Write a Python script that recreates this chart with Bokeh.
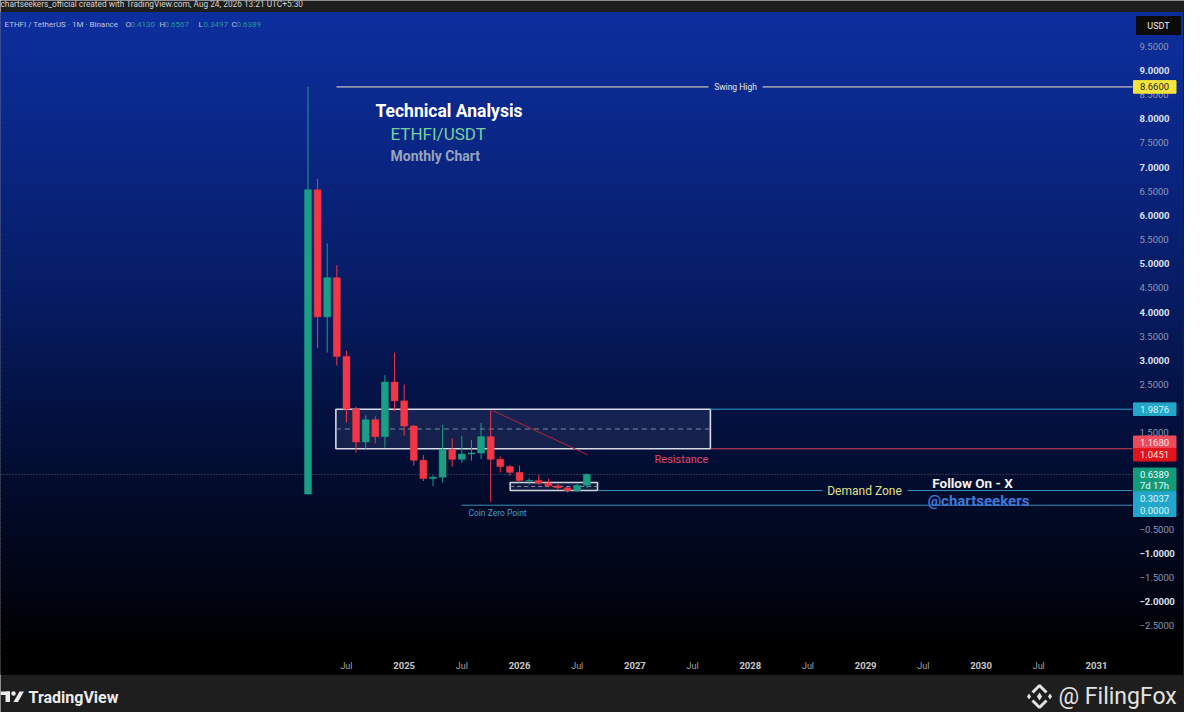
import numpy as np
from bokeh.plotting import figure
from bokeh.models import ColumnDataSource, Range1d
from bokeh.core.properties import value
from bokeh.embed import file_html
from bokeh.resources import INLINE

# ---------------- data ----------------
months = ["2024-03", "2024-04", "2024-05", "2024-06", "2024-07", "2024-08", "2024-09",
          "2024-10", "2024-11", "2024-12", "2025-01", "2025-02", "2025-03", "2025-04",
          "2025-05", "2025-06", "2025-07", "2025-08", "2025-09", "2025-10", "2025-11",
          "2025-12", "2026-01", "2026-02", "2026-03", "2026-04", "2026-05", "2026-06",
          "2026-07", "2026-08"]
opens = [0.23, 6.53, 3.90, 4.71, 3.08, 1.99, 1.31, 1.77, 1.42, 2.55, 2.16, 1.64, 0.93, 0.55,
         0.58, 1.15, 0.95, 1.06, 1.08, 1.42, 0.95, 0.80, 0.68, 0.50, 0.51, 0.46, 0.40, 0.36,
         0.30, 0.4130]
highs = [8.66, 6.76, 5.42, 4.97, 3.20, 2.04, 1.86, 1.84, 2.69, 3.16, 2.50, 1.66, 1.04, 0.62,
         1.66, 1.38, 1.44, 1.35, 1.70, 1.96, 1.01, 0.83, 0.82, 0.56, 0.63, 0.55, 0.44, 0.38,
         0.45, 0.6567]
lows = [0.22, 3.25, 3.16, 2.89, 1.71, 1.09, 1.17, 1.28, 1.19, 1.95, 1.44, 0.82, 0.50, 0.40,
        0.47, 0.80, 0.88, 0.92, 0.95, 0.07, 0.68, 0.61, 0.47, 0.42, 0.42, 0.37, 0.33, 0.26,
        0.28, 0.3497]
closes = [6.53, 3.90, 4.71, 3.08, 1.99, 1.31, 1.77, 1.42, 2.55, 2.16, 1.64, 0.93, 0.55, 0.58,
          1.15, 0.95, 1.06, 1.08, 1.42, 0.95, 0.80, 0.68, 0.51, 0.51, 0.46, 0.40, 0.36, 0.30,
          0.41, 0.6389]

ytick_values = [9.5, 9.0, 8.5, 8.0, 7.5, 7.0, 6.5, 6.0, 5.5, 5.0, 4.5, 4.0, 3.5, 3.0, 2.5,
                2.0, 1.5, 1.0, 0.5, 0.0, -0.5, -1.0, -1.5, -2.0, -2.5]
xtick_dates = ["2024-07", "2025-01", "2025-07", "2026-01", "2026-07", "2027-01", "2027-07",
               "2028-01", "2028-07", "2029-01", "2029-07", "2030-01", "2030-07", "2031-01"]
xtick_labels = ["Jul", "2025", "Jul", "2026", "Jul", "2027", "Jul", "2028", "Jul", "2029",
                "Jul", "2030", "Jul", "2031"]

swing_high = 8.66
zone_top = 1.9876
resistance = 1.1680
trend_start = 1.96
trend_end = 1.0451
demand_top = 0.47
demand = 0.3037
zero_point = 0.0
countdown = "7d 17h"

# ---------------- layout helpers (page pixels -> data) ----------------
X0, DX = 315.5, 9.615      # page x of first candle, px per month
Y0, DY = 512.7, 48.3       # page y of price 0, px per unit


def mi(s):
    y, m = s.split("-")
    return (int(y) - 2024) * 12 + int(m) - 3


def px2m(px):
    return (px - X0) / DX


def py2v(py):
    return (Y0 - py) / DY


def v2py(v):
    return Y0 - v * DY


XL, XR = px2m(8), px2m(1192)
YT, YB = py2v(8), py2v(720)
FONT = value("Roboto")

p = figure(width=1184, height=712, x_range=Range1d(XL, XR), y_range=Range1d(YB, YT),
           output_backend="svg", toolbar_location=None, x_axis_location=None,
           y_axis_location=None, min_border=0, background_fill_color="#1e1e1e",
           border_fill_color="#1e1e1e", outline_line_color=None)
p.grid.grid_line_color = None
p.grid.visible = False

# ---------------- background gradient ----------------
stops_py = [20, 150, 300, 420, 520, 610, 655]
stops_rgb = np.array([(13, 47, 158), (10, 39, 134), (7, 28, 100), (4, 18, 66),
                      (2, 10, 38), (1, 4, 16), (0, 0, 0)], dtype=float)
edges = np.arange(20, 664, 4)
tops, bots, cols = [], [], []
for e in edges[:-1]:
    mid = e + 2
    r = np.interp(mid, stops_py, stops_rgb[:, 0])
    g = np.interp(mid, stops_py, stops_rgb[:, 1])
    b = np.interp(mid, stops_py, stops_rgb[:, 2])
    cols.append("#%02x%02x%02x" % (int(r), int(g), int(b)))
    tops.append(py2v(e))
    bots.append(py2v(e + 4))
p.quad(left=px2m(8), right=px2m(1190), top=tops, bottom=bots, fill_color=cols,
       line_color=cols, line_width=1)
p.quad(left=px2m(8), right=px2m(1190), top=py2v(660), bottom=py2v(682),
       fill_color="#000000", line_color="#000000")

x_axis_edge = px2m(1140)

# ---------------- levels and zones ----------------
# current price dotted line
p.segment(x0=px2m(8), y0=closes[-1], x1=x_axis_edge, y1=closes[-1], line_color="#4f6470",
          line_width=1, line_dash="1 2")

# swing high line with gap for label
p.segment(x0=[px2m(344), px2m(770)], y0=[swing_high] * 2, x1=[px2m(716), x_axis_edge],
          y1=[swing_high] * 2, line_color="#efe6c0", line_width=1)
p.text(x=[px2m(743)], y=[swing_high], text=["Swing High"], text_font=FONT,
       text_font_size="8.5px", text_color="#e6e6e6", text_align="center", text_baseline="middle")

# big zone box
bx0, bx1 = 2.9, 41.85
p.quad(left=bx0, right=bx1, top=zone_top, bottom=resistance, fill_color="#8a98c0",
       fill_alpha=0.14, line_color="#d6dbe6", line_width=1.6)
p.segment(x0=bx0, y0=(zone_top + resistance) / 2, x1=bx1, y1=(zone_top + resistance) / 2,
          line_color="#7d8aa8", line_width=1, line_dash="5 4")
p.segment(x0=bx1, y0=zone_top, x1=x_axis_edge, y1=zone_top, line_color="#2a9fd0", line_width=1)
p.segment(x0=bx1, y0=resistance, x1=x_axis_edge, y1=resistance, line_color="#d8435c",
          line_width=1)
p.text(x=[px2m(689)], y=[py2v(467)], text=["Resistance"], text_font=FONT,
       text_font_size="11px", text_color="#e0456a", text_align="center", text_baseline="middle")

# trend line from the Oct 2025 high
p.segment(x0=mi("2025-10") + 0.2, y0=trend_start, x1=px2m(595), y1=trend_end,
          line_color="#b3263a", line_width=1)

# demand zone box
dx0, dx1 = px2m(517.7), px2m(605)
p.quad(left=dx0, right=dx1, top=demand_top, bottom=demand, fill_color="#8a98c0",
       fill_alpha=0.12, line_color="#d0d6e0", line_width=1.6)
p.segment(x0=dx0, y0=(demand_top + demand) / 2, x1=dx1, y1=(demand_top + demand) / 2,
          line_color="#7d8aa8", line_width=1, line_dash="4 3")
p.segment(x0=[dx1, px2m(915)], y0=[demand] * 2, x1=[px2m(830), x_axis_edge], y1=[demand] * 2,
          line_color="#3a8fb8", line_width=1)
p.text(x=[px2m(872)], y=[demand], text=["Demand Zone"], text_font=FONT,
       text_font_size="12px", text_color="#e0e08a", text_align="center", text_baseline="middle")

# coin zero point
p.segment(x0=px2m(469), y0=zero_point, x1=x_axis_edge, y1=zero_point, line_color="#3a8fb8",
          line_width=1)
p.text(x=[px2m(505)], y=[py2v(520.5)], text=["Coin Zero Point"], text_font=FONT,
       text_font_size="8.5px", text_color="#3f9fd0", text_align="center", text_baseline="middle")

# ---------------- candles ----------------
xs = [mi(m) for m in months]
up = [c >= o for o, c in zip(opens, closes)]
src = ColumnDataSource(dict(
    x=xs, o=opens, h=highs, l=lows, c=closes,
    top=[max(o, c) for o, c in zip(opens, closes)],
    bot=[min(o, c) for o, c in zip(opens, closes)],
    col=["#1a9f85" if u else "#f23645" for u in up]))
p.segment(x0="x", y0="l", x1="x", y1="h", line_color="col", line_width=1, source=src)
p.vbar(x="x", width=0.72, top="top", bottom="bot", fill_color="col", line_color="col",
       line_width=0.5, source=src)

# ---------------- titles / annotations ----------------
p.text(x=[px2m(383)], y=[py2v(118)], text=["Technical Analysis"], text_font=FONT,
       text_font_size="17.5px", text_font_style="bold", text_color="#ffffff",
       text_baseline="middle")
p.text(x=[px2m(398)], y=[py2v(141)], text=["ETHFI/USDT"], text_font=FONT,
       text_font_size="17px", text_color="#79cf9c", text_baseline="middle")
p.text(x=[px2m(398)], y=[py2v(163.5)], text=["Monthly Chart"], text_font=FONT,
       text_font_size="14px", text_font_style="bold", text_color="#9aa3bd",
       text_baseline="middle")
p.text(x=[px2m(980)], y=[py2v(490)], text=["Follow On - X"], text_font=FONT,
       text_font_size="13.5px", text_font_style="bold", text_color="#f2f2f2",
       text_align="center", text_baseline="middle")
p.text(x=[px2m(986)], y=[py2v(508)], text=["@chartseekers"], text_font=FONT,
       text_font_size="15px", text_font_style="bold", text_color="#3f78dc",
       text_align="center", text_baseline="middle")

# header and legend
p.text(x=[px2m(8)], y=[py2v(11)], text=["chartseekers_official created with TradingView.com, Aug 24, 2026 13:21 UTC+5:30"],
       text_font=FONT, text_font_size="8.3px", text_color="#d4d4d4", text_baseline="middle")
p.text(x=[px2m(12)], y=[py2v(32)], text=["ETHFI / TetherUS \u00b7 1M \u00b7 Binance"],
       text_font=FONT, text_font_size="8px", text_color="#b9c3df", text_baseline="middle")
ohlc_letters = ["O", "H", "L", "C"]
ohlc_vals = [opens[-1], highs[-1], lows[-1], closes[-1]]
letter_px = [133, 167, 206, 239]
p.text(x=[px2m(v) for v in letter_px], y=[py2v(32)] * 4, text=ohlc_letters, text_font=FONT,
       text_font_size="8px", text_color="#b9c3df", text_baseline="middle")
p.text(x=[px2m(v + 5) for v in letter_px], y=[py2v(32)] * 4,
       text=["%.4f" % v for v in ohlc_vals], text_font=FONT, text_font_size="8px",
       text_color="#2a94a0", text_baseline="middle")

# ---------------- price scale ----------------
maj = [v for v in ytick_values if abs(v - round(v)) < 1e-9]
mnr = [v for v in ytick_values if abs(v - round(v)) >= 1e-9]


def fmt(v):
    s = "%.4f" % abs(v)
    return ("\u2212" + s) if v < 0 else s


p.text(x=[px2m(1147)] * len(mnr), y=mnr, text=[fmt(v) for v in mnr], text_font=FONT,
       text_font_size="9.5px", text_color="#8c96b4", text_baseline="middle")
p.text(x=[px2m(1147)] * len(maj), y=maj, text=[fmt(v) for v in maj], text_font=FONT,
       text_font_size="9.5px", text_font_style="bold", text_color="#dde1ec",
       text_baseline="middle")

# USDT box
p.quad(left=px2m(1144), right=px2m(1188), top=py2v(24), bottom=py2v(42),
       fill_color="#0b0b0b", line_color="#0b0b0b")
p.text(x=[px2m(1166)], y=[py2v(33)], text=["USDT"], text_font=FONT, text_font_size="9px",
       text_color="#f0f0f0", text_align="center", text_baseline="middle")

# price tags: (value, pixel shift, label, bg, fg)
tags = [
    (swing_high, 0, "%.4f" % swing_high, "#f4e43c", "#2a2a2a"),
    (zone_top, 0, "%.4f" % zone_top, "#24a6c8", "#d6f5ff"),
    (resistance, -6.5, "%.4f" % resistance, "#ef4a5a", "#ffe6ea"),
    (trend_end, 0, "%.4f" % trend_end, "#e3131b", "#ffdcdc"),
    (closes[-1], 0, "%.4f" % closes[-1], "#139a7b", "#e6fff6"),
    (closes[-1], 11.5, countdown, "#139a7b", "#e6fff6"),
    (demand, 7.5, "%.4f" % demand, "#23a6c9", "#dbf6ff"),
    (zero_point, 5, "%.4f" % zero_point, "#23a6c9", "#dbf6ff"),
]
t_top, t_bot, t_y, t_txt, t_bg, t_fg = [], [], [], [], [], []
for v, sh, lab, bg, fg in tags:
    cy = v2py(v) + sh
    t_top.append(py2v(cy - 6.3))
    t_bot.append(py2v(cy + 6.3))
    t_y.append(py2v(cy))
    t_txt.append(lab)
    t_bg.append(bg)
    t_fg.append(fg)
p.quad(left=px2m(1141), right=px2m(1183.5), top=t_top, bottom=t_bot, fill_color=t_bg,
       line_color=t_bg)
p.text(x=[px2m(1162)] * len(t_txt), y=t_y, text=t_txt, text_font=FONT,
       text_font_size="9.5px", text_color=t_fg, text_align="center", text_baseline="middle")

# ---------------- time scale ----------------
xt = [mi(d) for d in xtick_dates]
yr_x = [x for x, l in zip(xt, xtick_labels) if l != "Jul"]
yr_l = [l for l in xtick_labels if l != "Jul"]
jl_x = [x for x, l in zip(xt, xtick_labels) if l == "Jul"]
jl_l = [l for l in xtick_labels if l == "Jul"]
p.text(x=yr_x, y=[py2v(673)] * len(yr_x), text=yr_l, text_font=FONT, text_font_size="9.5px",
       text_font_style="bold", text_color="#c9c9c9", text_align="center",
       text_baseline="middle")
p.text(x=jl_x, y=[py2v(673)] * len(jl_x), text=jl_l, text_font=FONT, text_font_size="9px",
       text_color="#a3a3a3", text_align="center", text_baseline="middle")

# ---------------- footer ----------------
p.quad(left=[px2m(8), px2m(13)], right=[px2m(17.5), px2m(17.5)],
       top=[py2v(699), py2v(699)], bottom=[py2v(702.5), py2v(709.5)],
       fill_color="#ececec", line_color=None)
p.scatter(x=[px2m(21)], y=[py2v(701)], size=4.5, marker="circle", fill_color="#ececec",
          line_color=None)
p.patch(x=[px2m(21), px2m(25.5), px2m(31.5), px2m(27)],
        y=[py2v(709.5), py2v(709.5), py2v(699), py2v(699)], fill_color="#ececec",
        line_color=None)
p.text(x=[px2m(36)], y=[py2v(705)], text=["TradingView"], text_font=FONT,
       text_font_size="16px", text_font_style="bold", text_color="#ececec",
       text_baseline="middle")

# watermark
p.scatter(x=[px2m(1047), px2m(1036.5), px2m(1057.5)], y=[py2v(704)] * 3, marker="diamond",
          size=[8, 6, 6], fill_color="#e2e2e2", line_color=None)
p.line(x=[px2m(1040), px2m(1047), px2m(1054)], y=[py2v(700), py2v(693), py2v(700)],
       line_color="#e2e2e2", line_width=3)
p.line(x=[px2m(1040), px2m(1047), px2m(1054)], y=[py2v(708), py2v(715), py2v(708)],
       line_color="#e2e2e2", line_width=3)
p.text(x=[px2m(1066)], y=[py2v(704)], text=["@ FilingFox"], text_font=FONT,
       text_font_size="23px", text_color="#e2e2e2", text_baseline="middle")

open("out.html", "w").write(file_html(p, INLINE))
